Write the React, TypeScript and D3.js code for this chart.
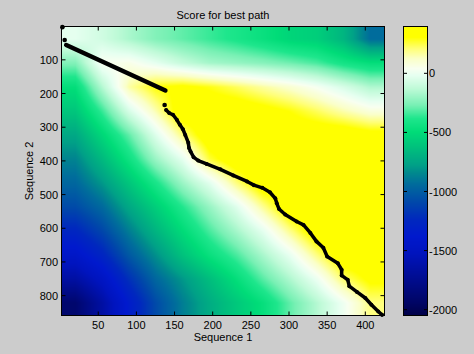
import React, { useMemo } from 'react';
import * as d3 from 'd3';

// ---- data ----
const xDomain = [2.5, 424.5];
const yDomain = [2.5, 857.5];
const xTicks = [50, 100, 150, 200, 250, 300, 350, 400];
const yTicks = [100, 200, 300, 400, 500, 600, 700, 800];
const cbDomain = [-2045, 392];
const cbTicks = [0, -500, -1000, -1500, -2000];

// colormap stops (value -> colour)
const cmapValues = [-2055, -1943, -1802, -1660, -1520, -1379, -1238, -1098, -930, -833, -777, -637, -495, -382, -270, -130, -17, 40, 123, 207, 305, 394];
const cmapColors = [
  'rgb(0,0,70)', 'rgb(0,5,100)', 'rgb(0,10,130)', 'rgb(0,15,160)', 'rgb(0,20,190)', 'rgb(0,25,205)',
  'rgb(0,40,190)', 'rgb(0,70,170)', 'rgb(0,110,155)', 'rgb(0,140,140)', 'rgb(0,160,135)', 'rgb(0,190,125)',
  'rgb(0,220,120)', 'rgb(30,230,140)', 'rgb(120,240,180)', 'rgb(190,250,215)', 'rgb(230,255,240)',
  'rgb(248,255,240)', 'rgb(250,255,200)', 'rgb(255,255,120)', 'rgb(255,255,0)', 'rgb(255,255,0)'
];

// score matrix, coarse read-out (rows: Sequence 2 top->bottom, cols: Sequence 1 left->right)
const scoreGrid = [
  [-20, -80, -170, -250, -300, -350, -400, -460, -530, -560, -680, -940],
  [-250, 40, 60, -20, -110, -180, -210, -240, -280, -330, -420, -480],
  [-480, -150, 160, 300, 330, 290, 230, 165, 105, 30, -60, -160],
  [-600, -350, -60, 150, 390, 390, 390, 350, 300, 230, 150, 80],
  [-740, -520, -300, -40, 200, 390, 390, 390, 390, 390, 390, 350],
  [-860, -660, -440, -200, -20, 260, 390, 390, 390, 390, 390, 390],
  [-960, -800, -600, -400, -200, -30, 200, 390, 390, 390, 390, 390],
  [-1080, -950, -740, -560, -380, -210, -40, 180, 390, 390, 390, 390],
  [-1260, -1100, -880, -680, -500, -330, -180, -20, 190, 390, 390, 390],
  [-1440, -1270, -1020, -820, -620, -460, -330, -170, -10, 200, 390, 390],
  [-1650, -1480, -1200, -960, -800, -640, -480, -310, -160, 0, 220, 330],
  [-1900, -1650, -1350, -1080, -880, -720, -590, -470, -300, -150, 10, 200],
];

// best path
const dotsX = [3, 6, 137];
const dotsY = [3, 41, 234];
const pathAX = [8, 138];
const pathAY = [56, 191];
const pathBX = [139, 143, 148, 153, 157, 161, 164, 168, 169, 171, 175, 181, 192, 210, 227, 245, 254, 265, 275, 282, 284, 287, 295, 310, 319, 328, 336, 345, 350, 364, 369, 369, 377, 379, 389, 400, 408, 417, 422];
const pathBY = [249, 258, 263, 278, 293, 306, 323, 346, 362, 372, 389, 399, 409, 425, 443, 461, 472, 480, 493, 511, 526, 543, 559, 580, 590, 614, 639, 658, 684, 704, 723, 740, 753, 772, 789, 807, 827, 847, 857];

const FONT = '"Liberation Sans", Arial, Helvetica, sans-serif';

export default function App() {
  const L = 62, R = 384, T = 27, B = 315;
  const x = d3.scaleLinear().domain(xDomain).range([L, R]);
  const y = d3.scaleLinear().domain(yDomain).range([T, B]);
  const color = d3.scaleLinear<string>().domain(cmapValues).range(cmapColors).interpolate(d3.interpolateRgb).clamp(true);
  const cbL = 404, cbR = 427;
  const cbY = d3.scaleLinear().domain(cbDomain).range([B, T]);

  const heatUrl = useMemo(() => {
    const pw = R - L, ph = B - T;
    const rows = scoreGrid.length, cols = scoreGrid[0].length;
    const c = document.createElement('canvas');
    c.width = pw; c.height = ph;
    const ctx = c.getContext('2d');
    if (!ctx) return '';
    const img = ctx.createImageData(pw, ph);
    for (let j = 0; j < ph; j++) {
      let gy = ((j + 0.5) / ph) * rows - 0.5;
      gy = Math.max(0, Math.min(rows - 1, gy));
      const j0 = Math.min(rows - 2, Math.floor(gy)); const fy = gy - j0;
      for (let i = 0; i < pw; i++) {
        let gx = ((i + 0.5) / pw) * cols - 0.5;
        gx = Math.max(0, Math.min(cols - 1, gx));
        const i0 = Math.min(cols - 2, Math.floor(gx)); const fx = gx - i0;
        const v = (1 - fy) * ((1 - fx) * scoreGrid[j0][i0] + fx * scoreGrid[j0][i0 + 1]) +
          fy * ((1 - fx) * scoreGrid[j0 + 1][i0] + fx * scoreGrid[j0 + 1][i0 + 1]);
        const col = d3.rgb(color(v));
        const k = (j * pw + i) * 4;
        img.data[k] = col.r; img.data[k + 1] = col.g; img.data[k + 2] = col.b; img.data[k + 3] = 255;
      }
    }
    ctx.putImageData(img, 0, 0);
    return c.toDataURL();
  }, []);

  const mk = (xs: number[], ys: number[]) =>
    d3.line<[number, number]>().x(d => x(d[0])).y(d => y(d[1]))(xs.map((v, i) => [v, ys[i]]) as [number, number][]) || '';

  const cbSlices = d3.range(T, B);
  const tickLen = 3.5;

  return (
    <svg width={474} height={354} style={{ position: 'absolute', left: 0, top: 0, background: '#cccccc' }} fontFamily={FONT}>
      <rect x={0} y={0} width={474} height={354} fill="#cccccc" />
      {heatUrl && <image href={heatUrl} x={L} y={T} width={R - L} height={B - T} preserveAspectRatio="none" />}
      {/* path */}
      <path d={mk(pathAX, pathAY)} fill="none" stroke="#000" strokeWidth={4.5} strokeLinecap="round" />
      <path d={mk(pathBX, pathBY)} fill="none" stroke="#000" strokeWidth={3.5} strokeLinecap="round" strokeLinejoin="round" />
      {pathBX.map((v, i) => <circle key={'pb' + i} cx={x(v)} cy={y(pathBY[i])} r={2} fill="#000" />)}
      {dotsX.map((v, i) => <circle key={'d' + i} cx={x(v)} cy={y(dotsY[i])} r={2.3} fill="#000" />)}
      {/* axes box */}
      <rect x={L - 0.5} y={T - 0.5} width={R - L + 1} height={B - T + 1} fill="none" stroke="#000" strokeWidth={1} />
      {xTicks.map(t => (
        <g key={'xt' + t}>
          <line x1={x(t)} x2={x(t)} y1={B} y2={B - tickLen} stroke="#000" />
          <line x1={x(t)} x2={x(t)} y1={T} y2={T + tickLen} stroke="#000" />
          <text x={x(t)} y={328.5} fontSize={11} textAnchor="middle" fill="#000">{t}</text>
        </g>
      ))}
      {yTicks.map(t => (
        <g key={'yt' + t}>
          <line x1={L} x2={L + tickLen} y1={y(t)} y2={y(t)} stroke="#000" />
          <line x1={R} x2={R - tickLen} y1={y(t)} y2={y(t)} stroke="#000" />
          <text x={58} y={y(t) + 4} fontSize={11} textAnchor="end" fill="#000">{t}</text>
        </g>
      ))}
      <text x={(L + R) / 2} y={18.5} fontSize={11} textAnchor="middle" fill="#000">Score for best path</text>
      <text x={(L + R) / 2} y={341} fontSize={11} textAnchor="middle" fill="#000">Sequence 1</text>
      <text transform={`translate(33,${(T + B) / 2}) rotate(-90)`} fontSize={11} textAnchor="middle" fill="#000">Sequence 2</text>
      {/* colorbar */}
      {cbSlices.map(py => (
        <rect key={'cb' + py} x={cbL} y={py} width={cbR - cbL} height={1.2} fill={color(cbY.invert(py + 0.5))} />
      ))}
      <rect x={cbL - 0.5} y={T - 0.5} width={cbR - cbL + 1} height={B - T + 1} fill="none" stroke="#000" />
      {cbTicks.map(t => (
        <g key={'cbt' + t}>
          <line x1={cbL} x2={cbL + 3} y1={cbY(t)} y2={cbY(t)} stroke="#000" />
          <line x1={cbR} x2={cbR - 3} y1={cbY(t)} y2={cbY(t)} stroke="#000" />
          <text x={cbR + 2} y={cbY(t) + 4} fontSize={11} fill="#000">{t}</text>
        </g>
      ))}
    </svg>
  );
}
